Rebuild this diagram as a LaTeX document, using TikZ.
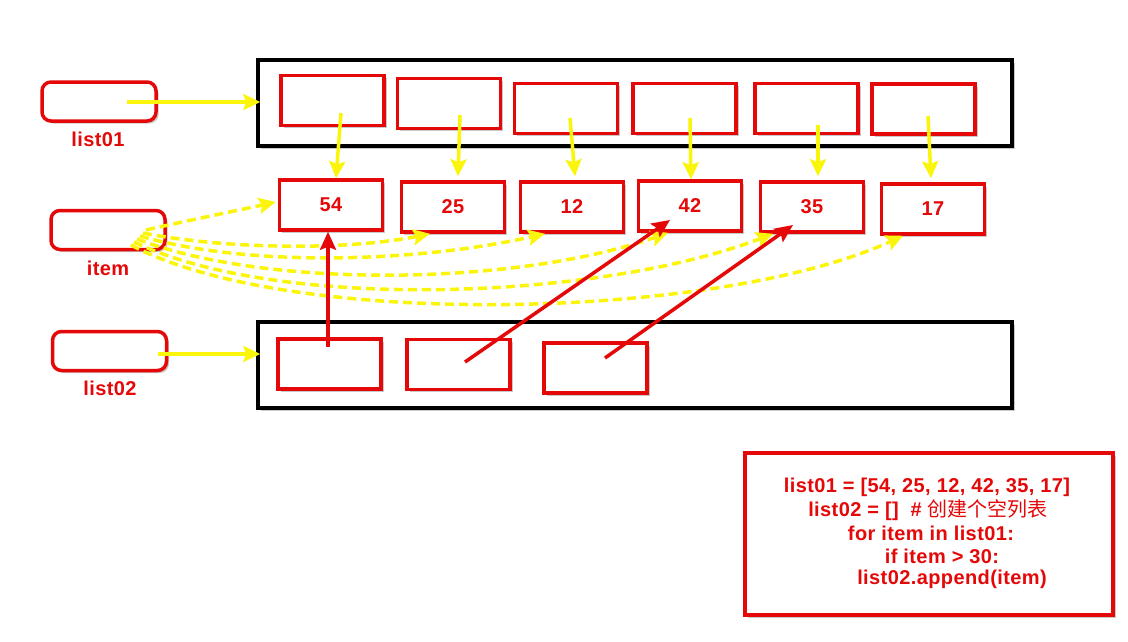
\documentclass[tikz,border=0pt]{standalone}
\usepackage{fontspec}
\setmainfont{Liberation Sans}
\newfontfamily\boldsans[LetterSpace=2]{Liberation Sans}
\newfontfamily\cjk{Noto Sans CJK SC}
\usetikzlibrary{arrows.meta,shadows,calc}
\definecolor{myred}{RGB}{228,8,8}
\definecolor{myyellow}{RGB}{250,245,10}
\begin{document}
\begin{tikzpicture}[x=1pt,y=-1pt,
  shad/.style={drop shadow={opacity=0.3,shadow xshift=2.5pt,shadow yshift=-2.5pt,fill=black!70}},
  cell/.style={draw=myred,line width=3.5pt,fill=white,minimum width=103pt,minimum height=50pt,inner sep=0pt,shad,
    text=myred,font=\boldsans\bfseries\fontsize{20}{22}\selectfont},
  frame/.style={draw=black,line width=3.5pt,fill=white,minimum width=754pt,minimum height=86pt,inner sep=0pt,shad},
  var/.style={draw=myred,line width=3.5pt,fill=white,rounded corners=9pt,minimum width=114pt,minimum height=39pt,inner sep=0pt,shad},
  lbl/.style={text=myred,font=\boldsans\bfseries\fontsize{20}{22}\selectfont,inner sep=0pt},
  codeline/.style={text=myred,font=\boldsans\bfseries\fontsize{20}{22}\selectfont,inner sep=0pt},
  codebox/.style={draw=myred,line width=3.5pt,fill=white,minimum width=368pt,minimum height=162pt,inner sep=0pt,shad},
  yarrow/.style={draw=myyellow,line width=3.5pt,-{Stealth[length=17pt,width=16pt,inset=3pt]}},
  ydash/.style={yarrow,dash pattern=on 9pt off 5pt},
  rarrow/.style={draw=myred,line width=3.5pt,-{Stealth[length=18pt,width=16pt,inset=3pt]}}
]
\useasboundingbox (0,0) rectangle (1128,641);

% frames
\node[frame] (L1) at (635,103) {};
\node[frame] (L2) at (635,365) {};

% variable boxes
\node[var] (vlist01) at (99,101.5) {};
\node[var] (vitem) at (108,230) {};
\node[var] (vlist02) at (109.5,351) {};
\node[lbl] (tlist01) at (98,139) {list01};
\node[lbl] (titem) at (108,268) {item};
\node[lbl] (tlist02) at (110,388) {list02};

% top cells
\node[cell] (t1) at (332.5,100.5) {};
\node[cell] (t2) at (449,103.5) {};
\node[cell] (t3) at (566,108.5) {};
\node[cell] (t4) at (684.5,108.5) {};
\node[cell] (t5) at (806.5,108.5) {};
\node[cell] (t6) at (923.5,109) {};

% value cells
\node[cell] (v1) at (331,205) {54};
\node[cell] (v2) at (453,207) {25};
\node[cell] (v3) at (572,207) {12};
\node[cell] (v4) at (690,206) {42};
\node[cell] (v5) at (812,207) {35};
\node[cell] (v6) at (933,209) {17};

% bottom cells
\node[cell] (b1) at (329.5,364) {};
\node[cell] (b2) at (458.5,364.5) {};
\node[cell] (b3) at (595.5,368) {};

% pointer arrows
\coordinate (p1) at (127,102);
\coordinate (p2) at (158,354);
\draw[yarrow] (p1) -- ([xshift=4pt]p1 -| L1.west);
\draw[yarrow] (p2) -- ([xshift=4pt]p2 -| L2.west);

% top to values
\coordinate (y1) at (341,113);
\coordinate (y2) at (460,115);
\coordinate (y3) at (570,118);
\coordinate (y4) at (690,118);
\coordinate (y5) at (818,125);
\coordinate (y6) at (928,116);
\draw[yarrow] (y1) -- ([xshift=5pt]v1.north);
\draw[yarrow] (y2) -- ([xshift=5pt,yshift=4pt]v2.north);
\draw[yarrow] (y3) -- ([xshift=3pt,yshift=4pt]v3.north);
\draw[yarrow] (y4) -- ([xshift=1pt]v4.north);
\draw[yarrow] (y5) -- ([xshift=6pt,yshift=4pt]v5.north);
\draw[yarrow] (y6) -- ([xshift=-2pt,yshift=4pt]v6.north);

% item dashed curves
\coordinate (s1) at (146,230);
\coordinate (s2) at (143,233);
\coordinate (s3) at (140,236);
\coordinate (s4) at (137,239);
\coordinate (s5) at (134,242);
\coordinate (s6) at (131,245);
\draw[ydash] (s1) .. controls (190,220) and (240,210) .. ([xshift=-2pt,yshift=3pt]v1.west);
\draw[ydash] (s2) .. controls (230,250) and (350,250) .. ([xshift=-23pt]v2.south);
\draw[ydash] (s3) .. controls (250,268) and (420,262) .. ([xshift=-27pt]v3.south);
\draw[ydash] (s4) .. controls (270,290) and (520,285) .. ([xshift=-22pt]v4.south);
\draw[ydash] (s5) .. controls (280,312) and (600,300) .. ([xshift=-39pt]v5.south);
\draw[ydash] (s6) .. controls (290,330) and (720,320) .. ([xshift=-30pt]v6.south);

% red arrows from list02 items
\coordinate (r1) at (328,347);
\coordinate (r2) at (465,362);
\coordinate (r3) at (605,358);
\draw[rarrow] (r1) -- ([xshift=-3pt]v1.south);
\draw[rarrow] (r2) -- ([shift={(-20,14)}]v4.center);
\draw[rarrow] (r3) -- ([shift={(-19,18)}]v5.center);

% code box
\node[codebox] (code) at (929,534) {};
\node[codeline] (c1) at (927,487) {list01 = [54, 25, 12, 42, 35, 17]};
\node[codeline] (c2) at (928,510) {list02 = []\ \ \# {\cjk\mdseries 创建个空列表}};
\node[codeline] (c3) at (931,533) {for item in list01:};
\node[codeline] (c4) at (942,556) {if item > 30:};
\node[codeline] (c5) at (952,579) {list02.append(item)};
\end{tikzpicture}
\end{document}
